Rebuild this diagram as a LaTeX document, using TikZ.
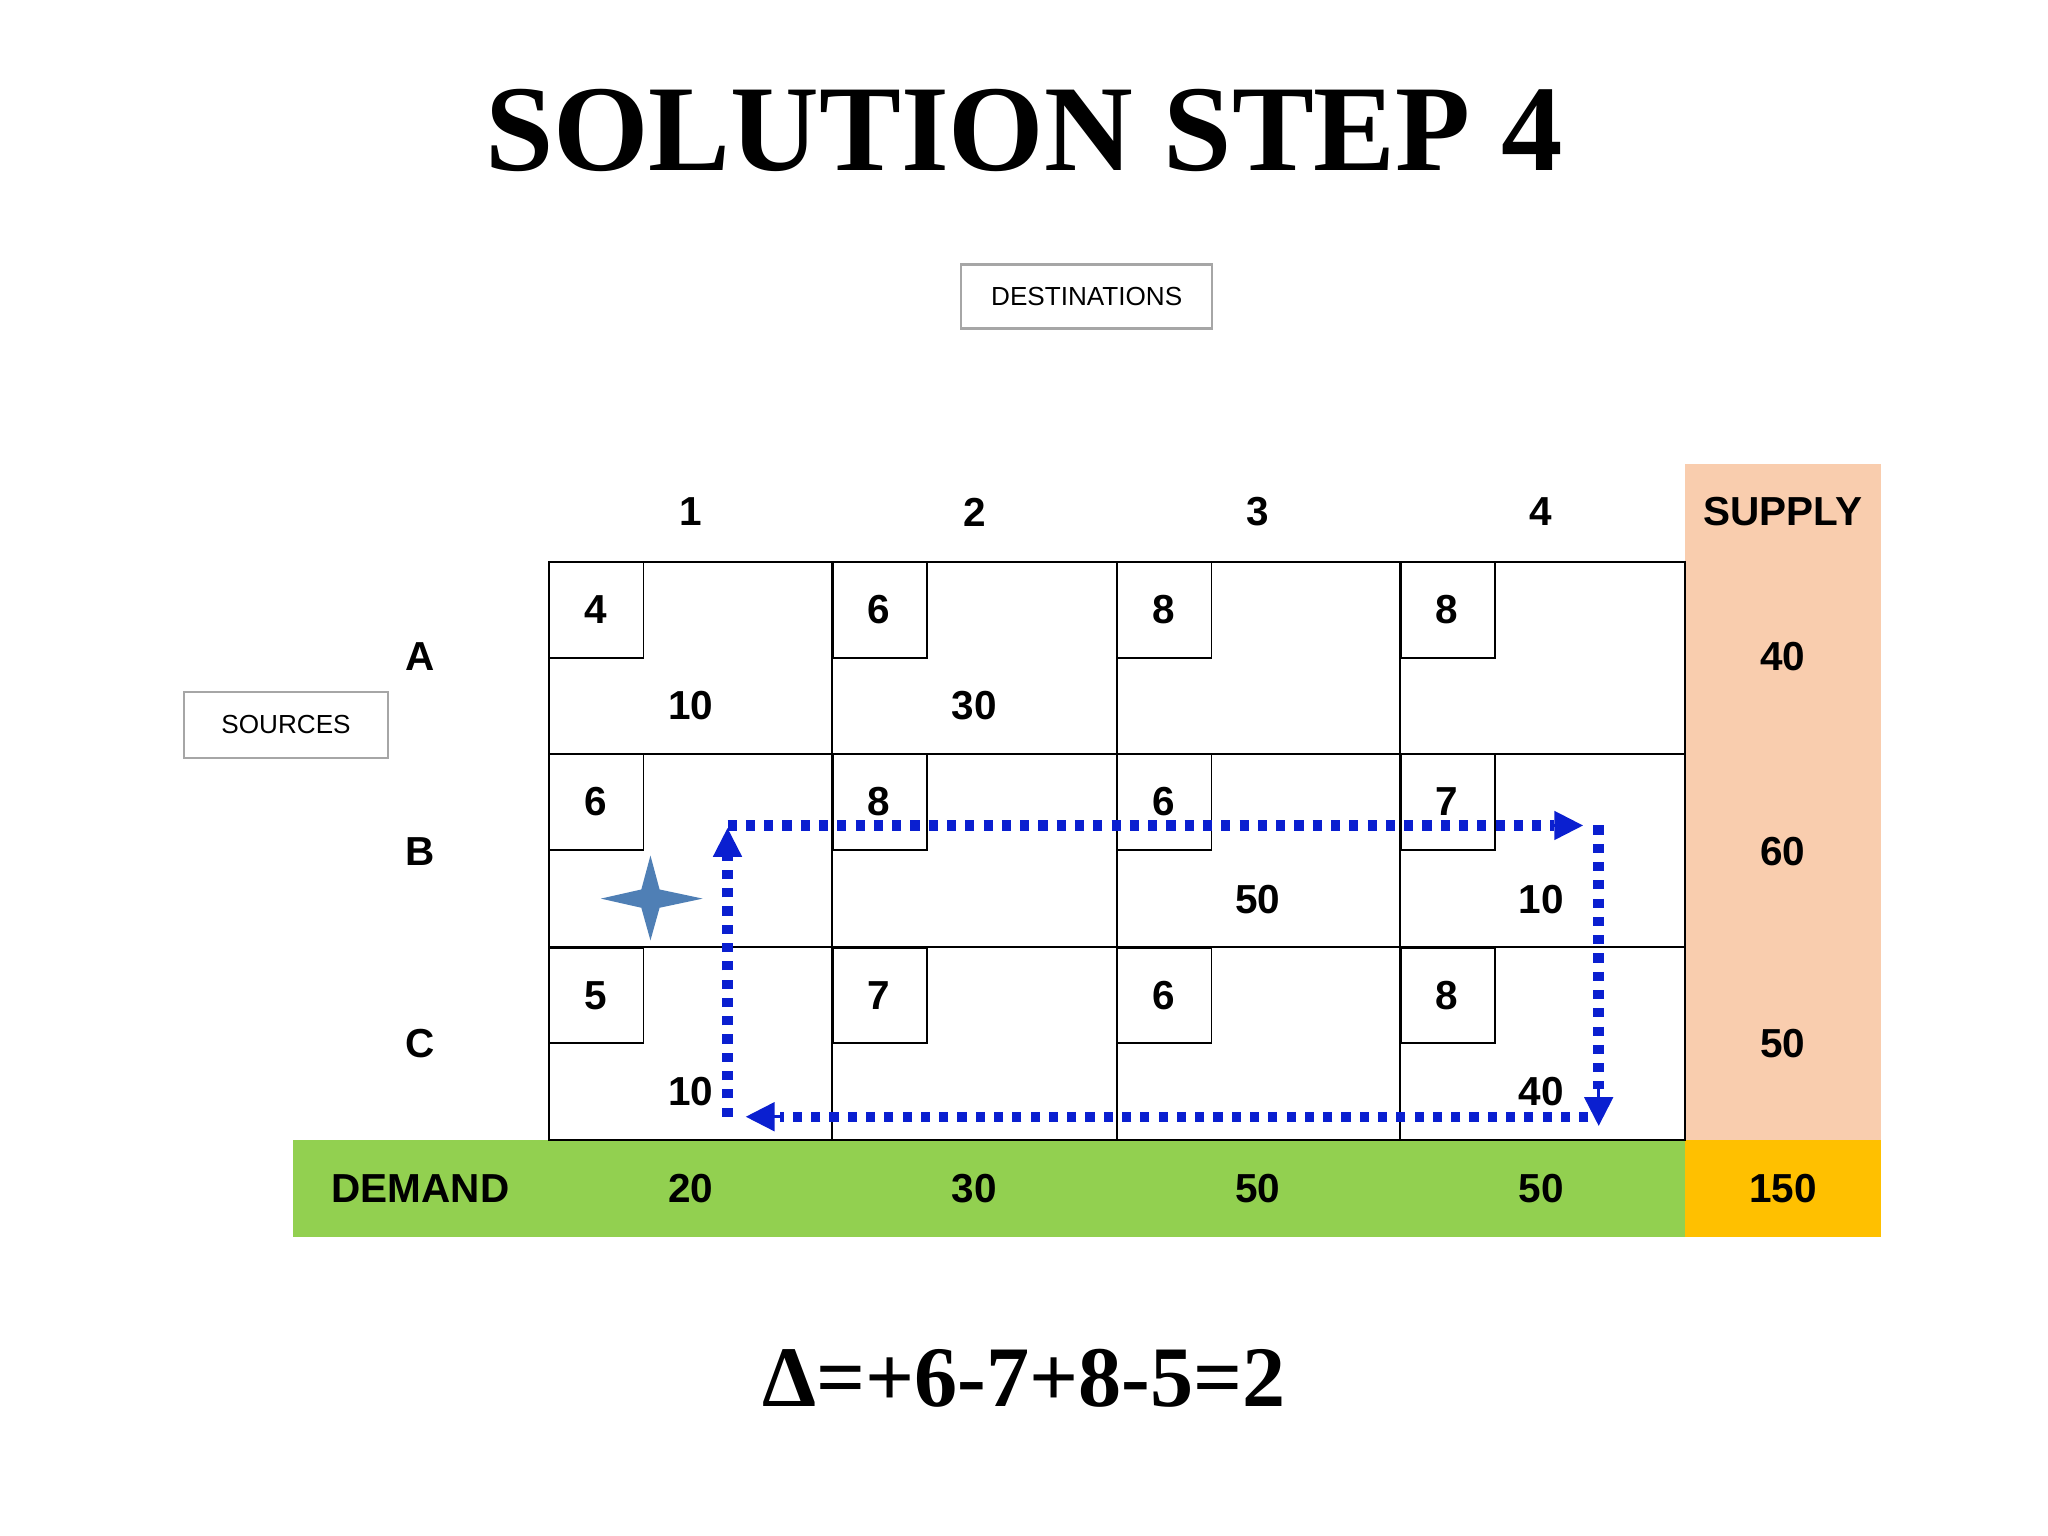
\documentclass[tikz,border=0pt]{standalone}
\usepackage{fontspec}
\setmainfont{Liberation Serif}
\setsansfont{Liberation Sans}
\usetikzlibrary{arrows.meta,calc}
\definecolor{peach}{HTML}{F9CDAE}
\definecolor{dgreen}{HTML}{92D050}
\definecolor{dorange}{HTML}{FFC000}
\definecolor{loopblue}{HTML}{0A1FD0}
\definecolor{starblue}{HTML}{4F7FB5}
\begin{document}
\begin{tikzpicture}[x=0.5pt,y=-0.5pt,
  num/.style={font=\sffamily\bfseries\fontsize{15.5}{18}\selectfont},
  lbl/.style={draw=gray!70,line width=0.8pt,font=\sffamily\fontsize{10}{12}\selectfont,inner sep=0pt},
  cost/.style={draw,line width=0.6pt,minimum width=36pt,minimum height=36.5pt,anchor=north west,inner sep=0pt},
  loopl/.style={loopblue,line width=4pt,dash pattern=on 3.5pt off 3.5pt},
  tip/.style={-{Triangle[length=11pt,width=11pt]},line width=1pt}]
\useasboundingbox (0,0) rectangle (1568,1176);
\node[font=\bfseries\fontsize{47}{54}\selectfont] (title) at (784,100) {SOLUTION STEP 4};
\node[lbl,minimum width=96pt,minimum height=24.5pt] (dest) at (832,227) {DESTINATIONS};
\node[lbl,minimum width=78pt,minimum height=25pt] (src) at (219,555) {SOURCES};
% backgrounds
\fill[peach] (1290,355) rectangle (1440,873);
\fill[dgreen] (224,873) rectangle (1290,947);
\fill[dorange] (1290,873) rectangle (1440,947);
% grid
\draw[line width=0.8pt] (420,430) rectangle (1290,873);
\foreach \x in {637,855,1072} \draw[line width=0.8pt] (\x,430) -- (\x,873);
\foreach \y in {577,725} \draw[line width=0.8pt] (420,\y) -- (1290,\y);
% cost boxes
\foreach \y/\r/\a/\b/\c/\d in {430/A/4/6/8/8,577/B/6/8/6/7,725/C/5/7/6/8}{
  \node[cost] (c\r1) at (420,\y) {}; \node[num] at ($(456,\y)+(0,37)$) {\a};
  \node[cost] (c\r2) at (637,\y) {}; \node[num] at ($(673,\y)+(0,37)$) {\b};
  \node[cost] (c\r3) at (855,\y) {}; \node[num] at ($(891,\y)+(0,37)$) {\c};
  \node[cost] (c\r4) at (1072,\y) {}; \node[num] at ($(1108,\y)+(0,37)$) {\d};
}
% headers
\foreach \x/\t in {529/1,746/2,963/3,1180/4} \node[num] at (\x,392) {\t};
\node[num] at (1365,392) {SUPPLY};
\node[num] at (322,503) {A};
\node[num] at (322,652) {B};
\node[num] at (322,799) {C};
% allocations
\node[num] at (529,540) {10};
\node[num] at (746,540) {30};
\node[num] at (963,689) {50};
\node[num] at (1180,689) {10};
\node[num] at (529,836) {10};
\node[num] at (1180,836) {40};
% supply/demand
\node[num] at (1365,503) {40};
\node[num] at (1365,652) {60};
\node[num] at (1365,799) {50};
\node[num] at (322,910) {DEMAND};
\foreach \x/\t in {529/20,746/30,963/50,1180/50} \node[num] at (\x,910) {\t};
\node[num] at (1365,910) {150};
% star
\fill[starblue] (498,655) -- (505,681) -- (538,688) -- (505,695) -- (498,720) -- (491,695) -- (460,688) -- (491,681) -- cycle;
% loop
\coordinate (p1) at (557,855);
\coordinate (p2) at (557,632);
\coordinate (p3) at (1224,632);
\coordinate (p4) at (1224,858);
\draw[loopl] (p1) -- ($(p2)+(0,24)$);
\draw[loopblue,tip] ($(p2)+(0,26)$) -- ($(p2)+(0,2)$);
\draw[loopl] (p2) -- ($(p3)+(-34,0)$);
\draw[loopblue,tip] ($(p3)+(-36,0)$) -- ($(p3)+(-12,0)$);
\draw[loopl] (p3) -- ($(p4)+(0,-24)$);
\draw[loopblue,tip] ($(p4)+(0,-26)$) -- ($(p4)+(0,4)$);
\draw[loopl] ($(p4|-p1)+(-8,0)$) -- ($(p1)+(40,0)$);
\draw[loopblue,tip] ($(p1)+(42,0)$) -- ($(p1)+(14,0)$);
\node[font=\bfseries\fontsize{33}{40}\selectfont] (delta) at (784,1055) {Δ=+6-7+8-5=2};
\end{tikzpicture}
\end{document}
